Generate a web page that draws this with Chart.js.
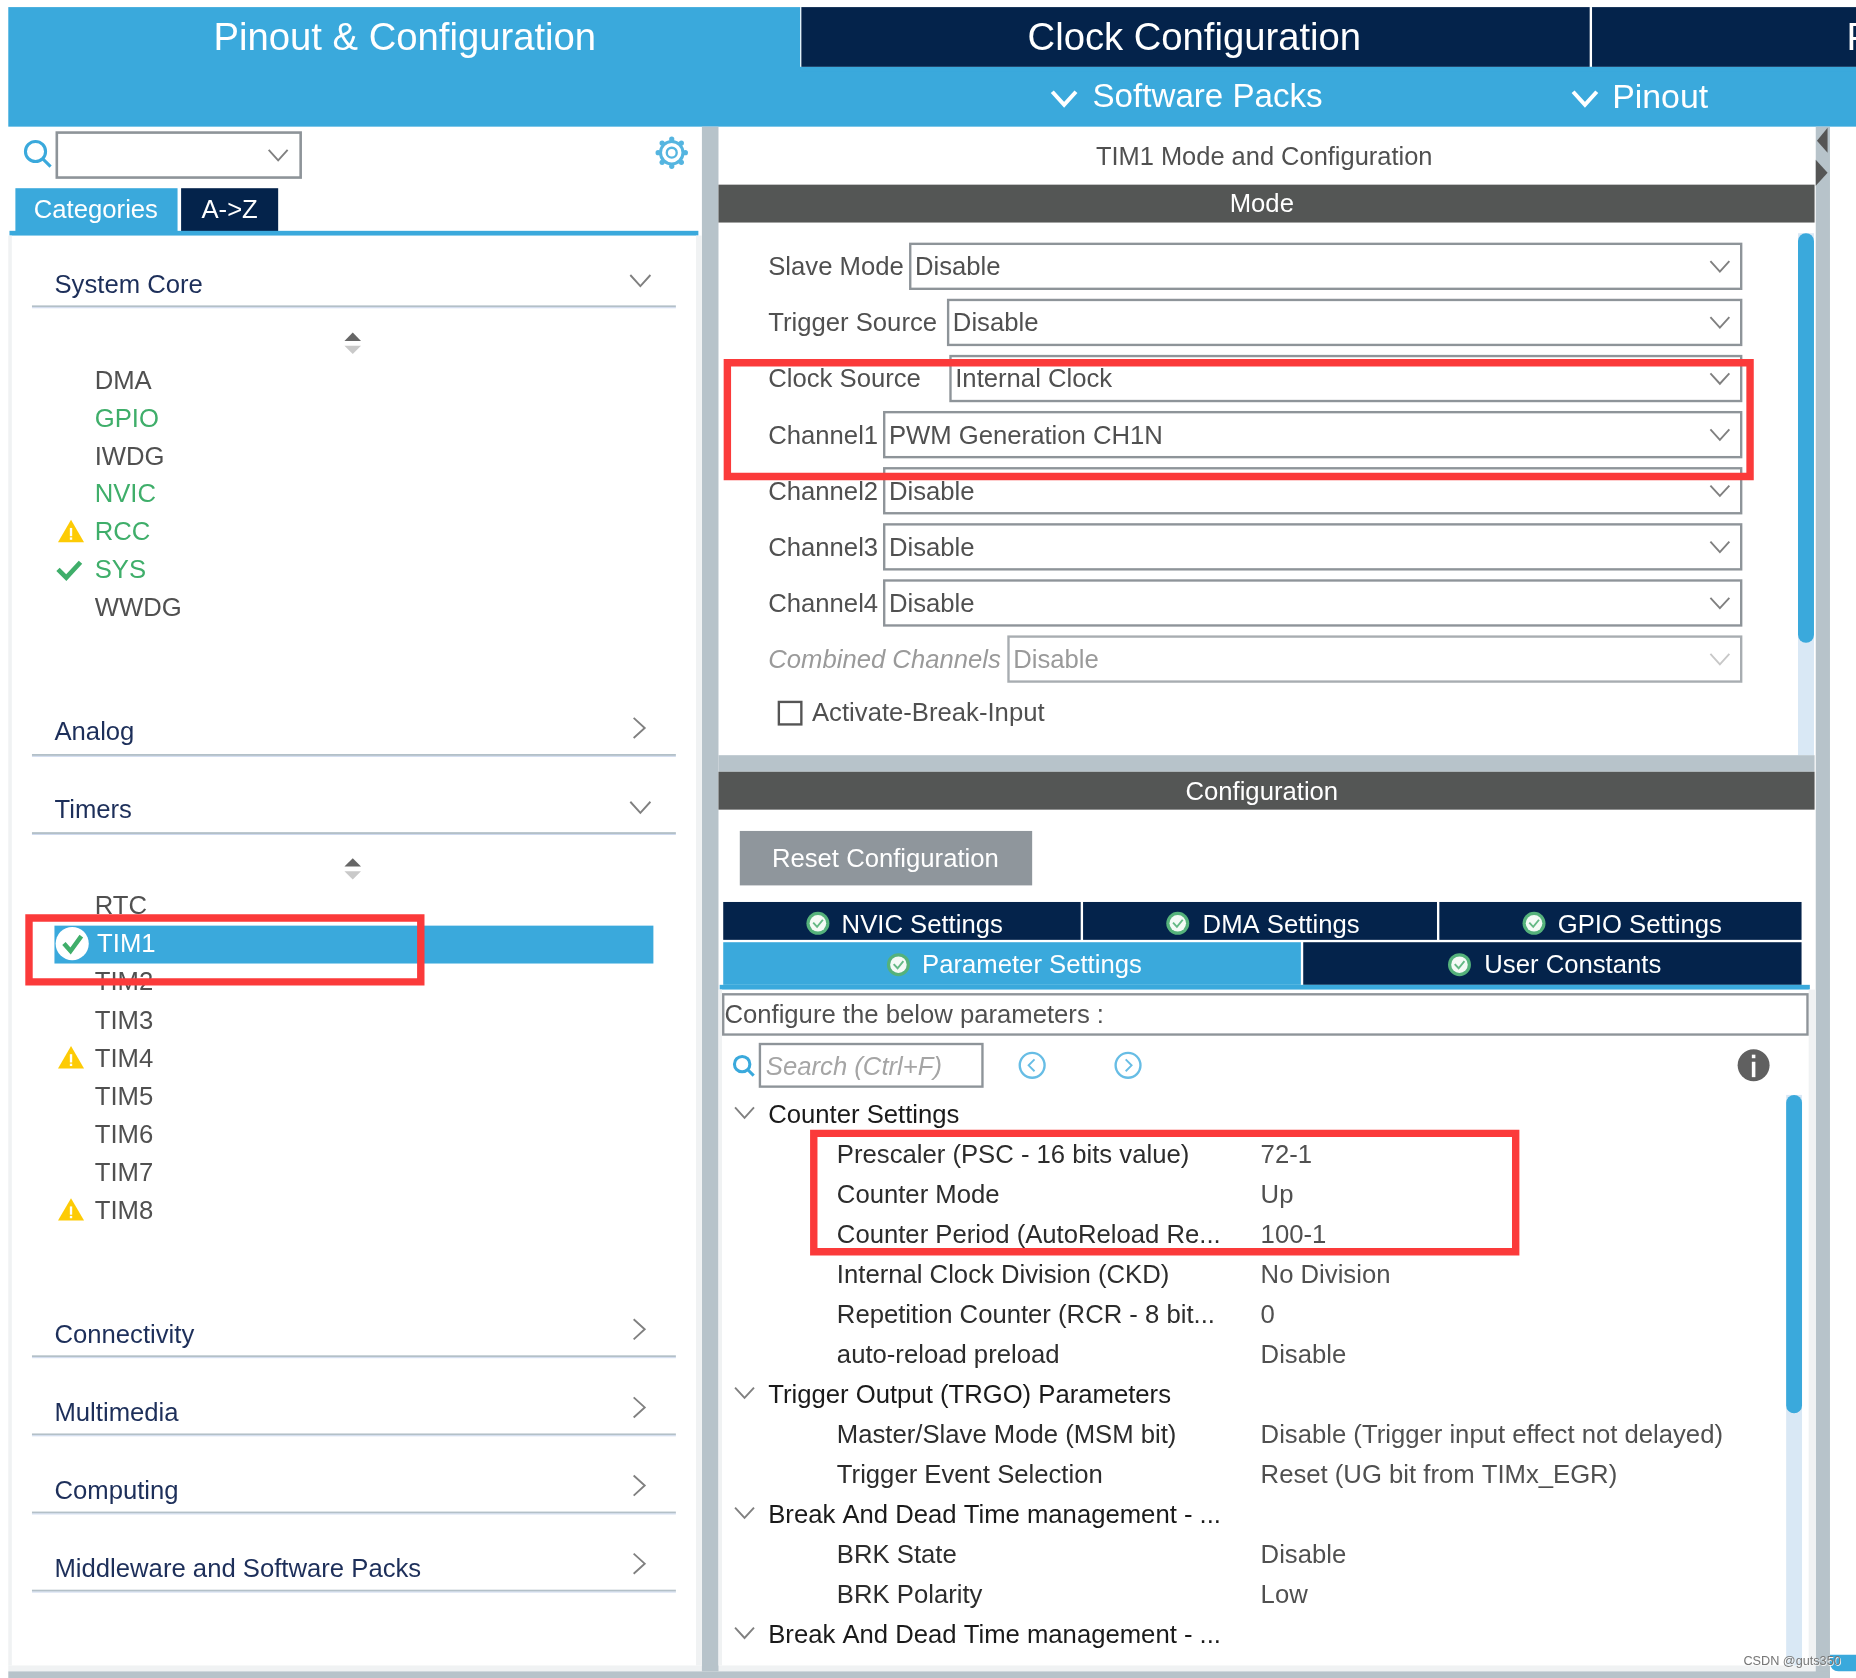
<!DOCTYPE html>
<html>
<head>
<meta charset="utf-8">
<script src="https://cdn.jsdelivr.net/npm/chart.js@4"></script>
<style>
  html, body { margin: 0; padding: 0; background: #fff; }
  canvas { display: block; }
</style>
</head>
<body>
<canvas id="myChart" width="1856" height="1678"></canvas>
<script>
// Screen content
var mainTabs = ["Pinout & Configuration", "Clock Configuration", "P"];
var subMenus = ["Software Packs", "Pinout"];
var systemCore = ["DMA", "GPIO", "IWDG", "NVIC", "RCC", "SYS", "WWDG"];
var systemCoreState = ["", "on", "", "on", "warn", "ok", ""];
var timers = ["RTC", "TIM1", "TIM2", "TIM3", "TIM4", "TIM5", "TIM6", "TIM7", "TIM8"];
var timersState = ["", "sel", "", "", "warn", "", "", "", "warn"];
var modeLabels = ["Slave Mode", "Trigger Source", "Clock Source", "Channel1", "Channel2", "Channel3", "Channel4", "Combined Channels"];
var modeValues = ["Disable", "Disable", "Internal Clock", "PWM Generation CH1N", "Disable", "Disable", "Disable", "Disable"];
var settingsTop = ["NVIC Settings", "DMA Settings", "GPIO Settings"];
var settingsBottom = ["Parameter Settings", "User Constants"];
var paramNames = ["Counter Settings", "Prescaler (PSC - 16 bits value)", "Counter Mode", "Counter Period (AutoReload Re...", "Internal Clock Division (CKD)", "Repetition Counter (RCR - 8 bit...", "auto-reload preload", "Trigger Output (TRGO) Parameters", "Master/Slave Mode (MSM bit)", "Trigger Event Selection", "Break And Dead Time management - ...", "BRK State", "BRK Polarity", "Break And Dead Time management - ..."];
var paramValues = [null, "72-1", "Up", "100-1", "No Division", "0", "Disable", null, "Disable (Trigger input effect not delayed)", "Reset (UG bit from TIMx_EGR)", null, "Disable", "Low", null];

var BLUE = "#3aa9dc", NAVY = "#04234b", GREY = "#8e9499", SIDE = "#b7c3ca", RED = "#fb3a3a", PALE = "#f0f2f3";
var W = 1568, H = 1417.6;
var FONT = '"Liberation Sans", Arial, sans-serif';
var TXT = 21.7;

// closed outline as line points
function frame(x0, y0, x1, y1) {
  return [{ x: x0, y: y0 }, { x: x1, y: y0 }, { x: x1, y: y1 }, { x: x0, y: y1 }, { x: x0, y: y0 }];
}
function redBox(pts) {
  return { data: pts, showLine: true, borderColor: RED, borderWidth: 7.4, pointRadius: 0, borderJoinStyle: "miter", borderCapStyle: "square" };
}

var screenPlugin = {
  id: "screen",
  beforeDatasetsDraw: function (chart) {
    var ctx = chart.ctx;
    var sx = chart.scales.x, sy = chart.scales.y;
    var k = sx.getPixelForValue(1) - sx.getPixelForValue(0);
    function X(v) { return sx.getPixelForValue(v); }
    function Y(v) { return sy.getPixelForValue(v); }

    function rect(x0, y0, x1, y1, c) {
      ctx.fillStyle = c;
      ctx.fillRect(X(x0), Y(y0), X(x1) - X(x0), Y(y1) - Y(y0));
    }
    function box(x0, y0, x1, y1, c, lw) {
      ctx.strokeStyle = c;
      ctx.lineWidth = (lw || 2) * k;
      ctx.strokeRect(X(x0), Y(y0), X(x1) - X(x0), Y(y1) - Y(y0));
    }
    function text(s, x, y, size, c, align, style) {
      ctx.font = (style ? style + " " : "") + size * k + "px " + FONT;
      ctx.fillStyle = c;
      ctx.textAlign = align || "left";
      ctx.textBaseline = "middle";
      ctx.fillText(s, X(x), Y(y + 3));
    }
    function poly(pts, c, lw, fill) {
      ctx.beginPath();
      pts.forEach(function (p, i) {
        if (i == 0) ctx.moveTo(X(p[0]), Y(p[1]));
        else ctx.lineTo(X(p[0]), Y(p[1]));
      });
      if (fill) {
        ctx.closePath();
        ctx.fillStyle = c;
        ctx.fill();
      } else {
        ctx.strokeStyle = c;
        ctx.lineWidth = lw * k;
        ctx.stroke();
      }
    }
    function circle(x, y, r, c, lw) {
      ctx.beginPath();
      ctx.arc(X(x), Y(y), r * k, 0, Math.PI * 2);
      if (lw) {
        ctx.strokeStyle = c;
        ctx.lineWidth = lw * k;
        ctx.stroke();
      } else {
        ctx.fillStyle = c;
        ctx.fill();
      }
    }
    function chevDown(x, y, s, c, lw) {
      poly([[x - s, y - s * 0.55], [x, y + s * 0.55], [x + s, y - s * 0.55]], c, lw || 1.6);
    }
    function chevRight(x, y, s, c) {
      poly([[x - s * 0.55, y - s], [x + s * 0.55, y], [x - s * 0.55, y + s]], c, 1.6);
    }
    function magnifier(x, y, r) {
      circle(x, y, r, BLUE, 2.6);
      poly([[x + r * 0.7, y + r * 0.7], [x + r * 1.5, y + r * 1.5]], BLUE, 2.6);
    }
    function warnIcon(x, y) {
      poly([[x, y - 10], [x + 11, y + 9], [x - 11, y + 9]], "#fdcb05", 0, true);
      rect(x - 1, y - 3, x + 1, y + 4, "#fff");
      rect(x - 1, y + 5, x + 1, y + 7, "#fff");
    }
    function okCircle(x, y, r) {
      circle(x, y, r, "#fff");
      poly([[x - r * 0.5, y], [x - r * 0.1, y + r * 0.45], [x + r * 0.55, y - r * 0.45]], "#3fae6a", r * 0.27);
    }
    function greenTick(x, y) {
      circle(x, y, 9.7, "#55b27b");
      circle(x, y, 7, "#f4faf6");
      poly([[x - 4, y - 0.5], [x - 0.7, y + 3], [x + 4.2, y - 3]], "#64b985", 1.6);
    }
    function sorter(x, y) {
      poly([[x, y - 9], [x + 7, y - 2], [x - 7, y - 2]], "#666", 0, true);
      poly([[x, y + 9], [x + 7, y + 2], [x - 7, y + 2]], "#c9c9c9", 0, true);
    }

    // page
    rect(0, 0, W, H, "#fff");

    // header band and main tabs
    rect(7, 6, W, 107, BLUE);
    rect(676, 6, W, 56.5, "#fff");
    rect(677, 6, 1343, 56.5, NAVY);
    rect(1345, 6, W, 56.5, NAVY);
    rect(676, 56.5, W, 60, BLUE);
    text(mainTabs[0], 342, 30, 32.3, "#fff", "center");
    text(mainTabs[1], 1009, 30, 32.3, "#fff", "center");
    text(mainTabs[2], 1560, 30, 32.3, "#fff");
    chevDown(899, 83, 10, "#fff", 3.4);
    text(subMenus[0], 923, 80, 28, "#fff");
    chevDown(1339, 83, 10, "#fff", 3.4);
    text(subMenus[1], 1362, 80, 28.6, "#fff");

    // grey separators and the bottom edge
    rect(7, 1407, 1534, 1412, PALE);
    rect(593, 107, 607, 1412, SIDE);
    rect(1534, 107, 1546, H, SIDE);
    rect(7, 1412, 1546, H, SIDE);

    // left column: search row
    magnifier(30, 128, 8.5);
    box(48, 112, 254, 150, GREY, 2.2);
    chevDown(235, 131, 8, "#808080");
    circle(567.5, 129, 9.5, "#55b5e0", 2.6);
    circle(567.5, 129, 4.2, "#55b5e0", 2);
    for (var a = 0; a < 8; a++) {
      var ang = a * Math.PI / 4;
      circle(567.5 + Math.cos(ang) * 11.5, 129 + Math.sin(ang) * 11.5, 2.2, "#55b5e0");
    }

    // categories tabs
    rect(13, 159, 150, 196, BLUE);
    rect(153, 159, 235, 196, NAVY);
    text("Categories", 81, 175.5, TXT, "#fff", "center");
    text("A->Z", 194, 175.5, TXT, "#fff", "center");
    rect(8, 195, 590, 199, BLUE);
    rect(7, 199, 10, 1407, PALE);
    rect(588, 199, 593, 1407, PALE);

    // category headers
    function category(s, y, lineY, open) {
      text(s, 46, y - 1.5, TXT, "#1d2f5a");
      rect(27, lineY - 1, 571, lineY + 0.6, "#b3c0c8");
      rect(27, lineY + 0.6, 571, lineY + 1.4, "#cdd9ee");
      if (open) chevDown(541, lineY - 22, 8.5, "#808080");
      else chevRight(540, lineY - 23, 8.5, "#808080");
    }
    category("System Core", 240, 259, true);
    category("Analog", 618, 638, false);
    category("Timers", 684, 704, true);
    category("Connectivity", 1127, 1146, false);
    category("Multimedia", 1193, 1212, false);
    category("Computing", 1259, 1278, false);
    category("Middleware and Software Packs", 1325, 1344, false);
    sorter(298, 290);
    sorter(298, 734);

    // peripheral lists
    var GREEN = "#3fae6a", ITEM = "#505050";
    systemCore.forEach(function (s, i) {
      var y = 321 + i * 32;
      var st = systemCoreState[i];
      text(s, 80, y - 1.5, TXT, st ? GREEN : ITEM);
      if (st == "warn") warnIcon(60, y);
      if (st == "ok") poly([[49, y], [56, y + 7], [68, y - 6]], GREEN, 4);
    });
    timers.forEach(function (s, i) {
      var y = 765 + i * 32.15;
      var st = timersState[i];
      if (st == "sel") {
        rect(46, 782, 552, 814, BLUE);
        okCircle(61, y, 14);
        text(s, 82, y - 1.5, TXT, "#fff");
      } else {
        text(s, 80, y - 1.5, TXT, ITEM);
      }
      if (st == "warn") warnIcon(60, y);
    });

    // mode panel
    text("TIM1 Mode and Configuration", 1068, 130.5, 21.5, "#505050", "center");
    rect(607, 156, 1533, 188, "#545655");
    text("Mode", 1066, 170.5, TXT, "#fff", "center");
    var boxLeft = [769, 801, 803, 747, 747, 747, 747, 852];
    modeLabels.forEach(function (s, i) {
      var top = 206 + i * 47.4;
      var mid = top + 19;
      var off = i == 7;
      text(s, 649, mid - 1.5, TXT, off ? "#9a9a9a" : ITEM, "left", off ? "italic" : "");
      box(boxLeft[i], top, 1471, top + 38, off ? "#a8adb1" : GREY, 2);
      text(modeValues[i], boxLeft[i] + 4, mid - 1.5, TXT, off ? "#9a9a9a" : ITEM);
      chevDown(1453, mid, 8, off ? "#c8c8c8" : "#808080");
    });
    box(658, 593, 677, 612, "#555", 2);
    text("Activate-Break-Input", 686, 600.5, TXT, ITEM);

    // mode scrollbar
    rect(1519, 197, 1532.5, 638, "#d9e8f5");
    ctx.fillStyle = BLUE;
    ctx.beginPath();
    ctx.roundRect(X(1519), Y(197), 13.5 * k, 346 * k, 6.7 * k);
    ctx.fill();

    // collapse arrows
    poly([[1544, 108], [1544, 129], [1535, 119]], "#555", 0, true);
    poly([[1534, 135], [1534, 157], [1544, 146]], "#555", 0, true);

    // configuration panel
    rect(607, 638, 1533, 652, SIDE);
    rect(607, 652, 1533, 684, "#545655");
    text("Configuration", 1066, 666.5, TXT, "#fff", "center");
    rect(625, 702, 872, 748, "#8f969c");
    text("Reset Configuration", 748, 723.5, TXT, "#fff", "center");

    var topX = [[611, 913, 691, 711], [915, 1214, 995, 1016], [1216, 1522, 1296, 1316]];
    settingsTop.forEach(function (s, i) {
      rect(topX[i][0], 762, topX[i][1], 794, NAVY);
      greenTick(topX[i][2], 780);
      text(s, topX[i][3], 779, TXT, "#fff");
    });
    var lowX = [[611, 1099, 759, 779, BLUE], [1101, 1522, 1233, 1254, NAVY]];
    settingsBottom.forEach(function (s, i) {
      rect(lowX[i][0], 796, lowX[i][1], 832, lowX[i][4]);
      greenTick(lowX[i][2], 815);
      text(s, lowX[i][3], 813, TXT, "#fff");
    });
    rect(608, 832, 1529, 836, BLUE);
    rect(607, 836, 610, 1407, PALE);
    rect(1528, 836, 1534, 1407, PALE);
    box(611, 840, 1527, 874, GREY, 2);
    text("Configure the below parameters :", 612, 855, TXT, ITEM);

    magnifier(627, 899, 6.5);
    box(642, 882, 830, 918, GREY, 2);
    text("Search (Ctrl+F)", 647, 899, TXT, "#a5a5a5", "left", "italic");
    circle(872, 900, 10.5, "#67bde5", 2);
    poly([[874, 895], [869, 900], [874, 905]], "#67bde5", 1.6);
    circle(953, 900, 10.5, "#67bde5", 2);
    poly([[951, 895], [956, 900], [951, 905]], "#67bde5", 1.6);
    circle(1481.5, 900, 13.5, "#606060");
    rect(1480, 897, 1483, 910, "#fff");
    rect(1480, 891, 1483, 894, "#fff");

    // parameter tree
    paramNames.forEach(function (s, i) {
      var y = 941 + i * 33.8;
      if (paramValues[i] === null) {
        chevDown(629, y - 1, 8, "#808080");
        text(s, 649, y - 1.5, TXT, "#1a1a1a");
      } else {
        text(s, 707, y - 1.5, TXT, "#2c2c2c");
        text(paramValues[i], 1065, y - 1.5, TXT, ITEM);
      }
    });
    rect(1509, 925, 1522.4, 1407, "#d9e8f5");
    ctx.fillStyle = BLUE;
    ctx.beginPath();
    ctx.roundRect(X(1509), Y(925), 13.4 * k, 269 * k, 6.7 * k);
    ctx.fill();

    // blue corner piece and watermark
    ctx.fillStyle = BLUE;
    ctx.beginPath();
    ctx.roundRect(X(1546), Y(1398), 22 * k, 14 * k, [0, 0, 0, 7 * k]);
    ctx.fill();
    text("CSDN @guts350", 1514.6, 1401.1, 10.7, "#f6f6f6", "center");
    text("CSDN @guts350", 1514, 1400.5, 10.7, "#777", "center");
  }
};

Chart.defaults.font.family = FONT;

var chart = new Chart(document.getElementById("myChart").getContext("2d"), {
  type: "scatter",
  data: {
    datasets: [
      redBox(frame(614.5, 306.5, 1478.5, 402.5)),
      redBox(frame(24.5, 775.5, 355.5, 829.5)),
      redBox(frame(687.5, 957.5, 1280.5, 1057.5))
    ]
  },
  options: {
    responsive: false,
    animation: false,
    devicePixelRatio: 1,
    layout: { padding: 0 },
    plugins: { legend: { display: false }, tooltip: { enabled: false } },
    scales: {
      x: { type: "linear", min: 0, max: W, display: false },
      y: { type: "linear", min: 0, max: H, reverse: true, display: false }
    }
  },
  plugins: [screenPlugin]
});
</script>
</body>
</html>
